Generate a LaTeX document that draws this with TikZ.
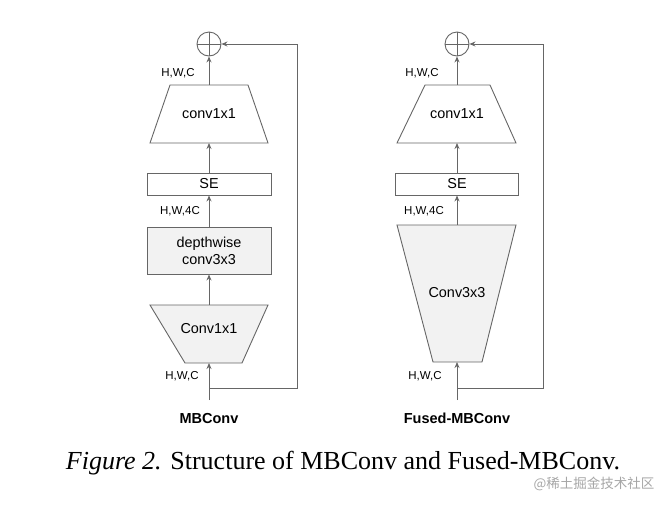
\documentclass[tikz,border=0pt]{standalone}
\usepackage{fontspec}
\setmainfont{Liberation Serif}
\newfontfamily\arial{Liberation Sans}
\newfontfamily\cjk{Noto Sans CJK SC}
\usetikzlibrary{arrows.meta}
\definecolor{lgray}{rgb}{0.4,0.4,0.4}
\definecolor{bfill}{rgb}{0.95,0.95,0.95}
\tikzset{
  blk/.style={draw=lgray,line width=0.9pt},
  txt/.style={font=\arial\fontsize{14.4}{17}\selectfont},
  dim/.style={font=\arial\fontsize{11.5}{13}\selectfont},
  ttl/.style={font=\arial\bfseries\fontsize{14.5}{17}\selectfont},
  flow/.style={draw=lgray,line width=0.9pt,-{Stealth[length=6pt,width=5pt]}},
}
\begin{document}
\begin{tikzpicture}[x=1pt,y=-1pt]
\useasboundingbox (0,0) rectangle (671,507);
%
% MBConv
\draw[blk,fill=white] (170,85) -- (248,85) -- (268,143) -- (150,143) -- cycle;
\node[txt] (up1) at (209,114) {conv1x1};
\node[blk,txt,fill=white,minimum width=124pt,minimum height=22pt,inner sep=0pt] (se1) at (209,184) {SE};
\node[blk,txt,fill=bfill,minimum width=124pt,minimum height=47pt,align=center,inner sep=0pt] (dw1) at (209,250.5) {depthwise\\conv3x3};
\draw[blk,fill=bfill] (150,305) -- (268,305) -- (242,363) -- (185,363) -- cycle;
\node[txt] (ex1) at (209,329) {Conv1x1};
\node[blk,circle,minimum size=24pt,inner sep=0pt] (add1) at (209,44) {};
\draw[lgray,line width=0.6pt] (add1.north) -- (add1.south) (add1.west) -- (add1.east);
\coordinate (in1) at (209,400);
\coordinate (ex1b) at (209,363);
\coordinate (ex1t) at (209,305);
\coordinate (up1t) at (209,85);
\coordinate (up1b) at (209,143);
\coordinate (sk1) at (209,388);
\coordinate (sk1r) at (297,388);
\coordinate (sk1t) at (297,44);
\draw[flow] (in1) -- (ex1b);
\draw[flow] (ex1t) -- (dw1.south);
\draw[flow] (dw1.north) -- (se1.south);
\draw[flow] (se1.north) -- (up1b);
\draw[flow] (up1t) -- (add1.south);
\draw[flow] (sk1) -- (sk1r) -- (sk1t) -- (add1.east);
\node[dim] (d1a) at (178,73) {H,W,C};
\node[dim] (d1b) at (180,211) {H,W,4C};
\node[dim] (d1c) at (182,376) {H,W,C};
\node[ttl] (t1) at (209,418) {MBConv};
%
% Fused-MBConv
\draw[blk,fill=white] (425,85) -- (490,85) -- (516,143) -- (397,143) -- cycle;
\node[txt] (up2) at (457,114) {conv1x1};
\node[blk,txt,fill=white,minimum width=123pt,minimum height=22pt,inner sep=0pt] (se2) at (457,184) {SE};
\draw[blk,fill=bfill] (397,225) -- (516,225) -- (482,362) -- (433,362) -- cycle;
\node[txt] (fu2) at (457,293) {Conv3x3};
\node[blk,circle,minimum size=24pt,inner sep=0pt] (add2) at (457,44) {};
\draw[lgray,line width=0.6pt] (add2.north) -- (add2.south) (add2.west) -- (add2.east);
\coordinate (in2) at (457,400);
\coordinate (fu2b) at (457,362);
\coordinate (fu2t) at (457,225);
\coordinate (up2t) at (457,85);
\coordinate (up2b) at (457,143);
\coordinate (sk2) at (457,388);
\coordinate (sk2r) at (543,388);
\coordinate (sk2t) at (543,44);
\draw[flow] (in2) -- (fu2b);
\draw[flow] (fu2t) -- (se2.south);
\draw[flow] (se2.north) -- (up2b);
\draw[flow] (up2t) -- (add2.south);
\draw[flow] (sk2) -- (sk2r) -- (sk2t) -- (add2.east);
\node[dim] (d2a) at (422,73) {H,W,C};
\node[dim] (d2b) at (424,211) {H,W,4C};
\node[dim] (d2c) at (425,376) {H,W,C};
\node[ttl] (t2) at (457,418) {Fused-MBConv};
%
\node[font=\fontsize{26}{30}\selectfont] (cap) at (343,463) {\textit{Figure 2.} Structure of MBConv and Fused-MBConv.};
\node[font=\cjk\fontsize{13.5}{16}\selectfont,text=gray!70] (wm) at (594,484) {@稀土掘金技术社区};
\end{tikzpicture}
\end{document}
